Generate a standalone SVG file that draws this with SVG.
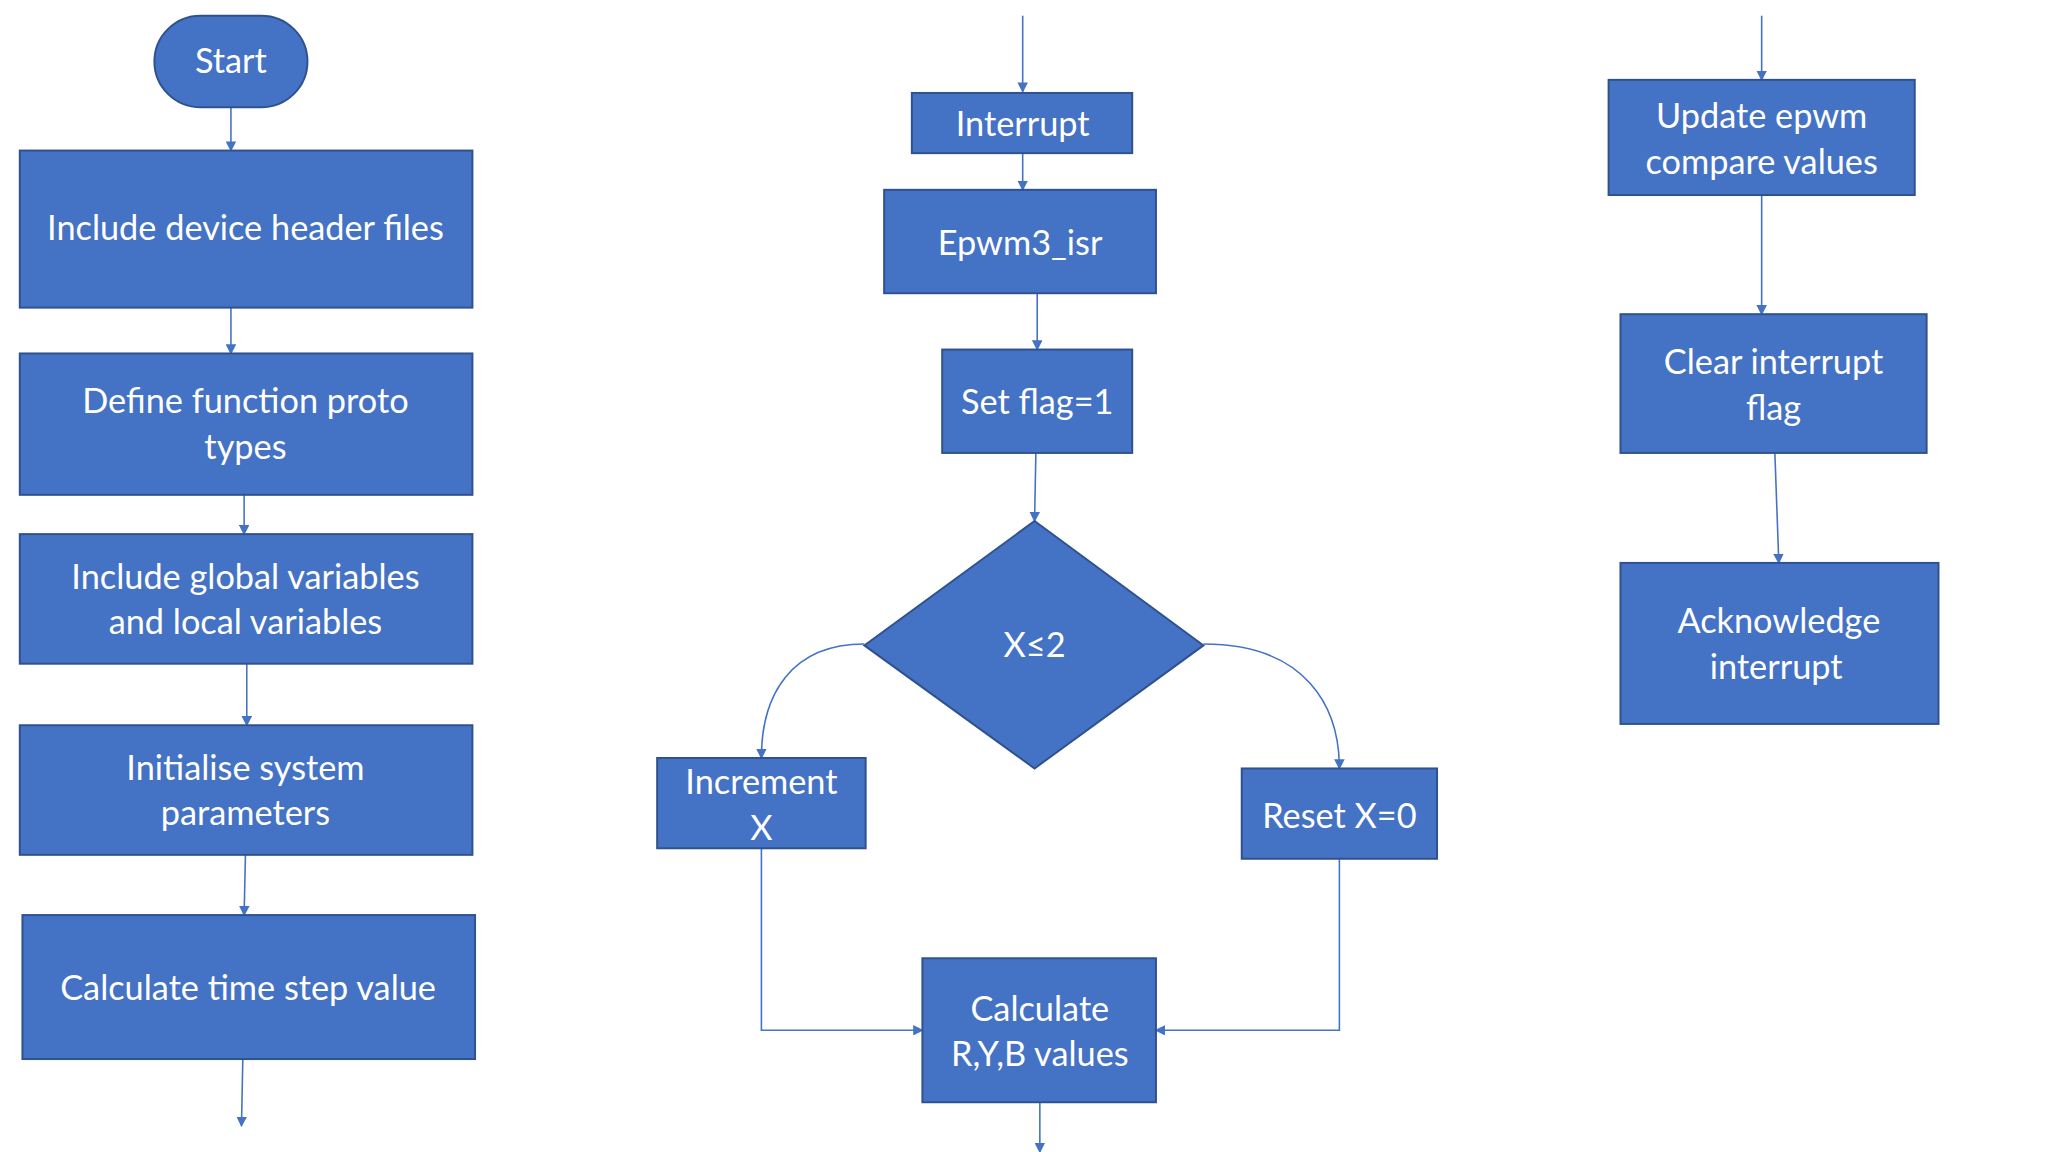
<svg xmlns="http://www.w3.org/2000/svg" width="2048" height="1152" viewBox="0 0 2048 1152">
<defs>
<marker id="ah" markerWidth="8" markerHeight="8" refX="7" refY="4" orient="auto" markerUnits="userSpaceOnUse"><path d="M0,0 L8,4 L0,8 z" fill="#4472C4"/></marker>
<style>
.n{fill:#4472C4;stroke:#2F528F;stroke-width:1.5}
.t{fill:#fff;font-family:Lato,"Open Sans",sans-serif;font-size:26px;text-anchor:middle;dominant-baseline:middle}
.c{fill:none;stroke:#4472C4;stroke-width:1.2;marker-end:url(#ah)}
.c2{fill:none;stroke:#4472C4;stroke-width:1.2}
</style>
</defs>
<rect width="2048" height="1152" fill="#fff"/>
<g transform="scale(1.3196 1.3091)">
<g id="connectors">
<path class="c" d="M175,82 V115"/>
<path class="c" d="M175,235 V270"/>
<path class="c" d="M185,378 V408"/>
<path class="c" d="M187,507 V554"/>
<path class="c" d="M186,653 L185,699"/>
<path class="c" d="M184,809 L183,860"/>
<path class="c" d="M775,12 V70"/>
<path class="c" d="M775,117 V145"/>
<path class="c" d="M786,224 V267"/>
<path class="c" d="M785,346 L784,398"/>
<path class="c" d="M655,492 C600,492 577,530 577,579"/>
<path class="c" d="M912,492 C990,492 1015,540 1015,587"/>
<path class="c" d="M577,648 V787 H699"/>
<path class="c" d="M1015,656 V787 H876"/>
<path class="c" d="M788,842 V880"/>
<path class="c" d="M1335,12 V61"/>
<path class="c" d="M1335,149 V240"/>
<path class="c" d="M1345,346 L1348,430"/>
</g>
<g id="start"><rect class="n" x="117" y="12" width="116" height="70" rx="35"/><text class="t" x="175" y="49">Start</text></g>
<g id="n1"><rect class="n" x="15" y="115" width="343" height="120"/><text class="t" x="186" y="177">Include device header files</text></g>
<g id="n2"><rect class="n" x="15" y="270" width="343" height="108"/><text class="t" x="186" y="309">Define function proto</text><text class="t" x="186" y="344">types</text></g>
<g id="n3"><rect class="n" x="15" y="408" width="343" height="99"/><text class="t" x="186" y="443">Include global variables</text><text class="t" x="186" y="478">and local variables</text></g>
<g id="n4"><rect class="n" x="15" y="554" width="343" height="99"/><text class="t" x="186" y="589">Initialise system</text><text class="t" x="186" y="624">parameters</text></g>
<g id="n5"><rect class="n" x="17" y="699" width="343" height="110"/><text class="t" x="188" y="757">Calculate time step value</text></g>
<g id="interrupt"><rect class="n" x="691" y="71" width="167" height="46"/><text class="t" x="775" y="97">Interrupt</text></g>
<g id="isr"><rect class="n" x="670" y="145" width="206" height="79"/><text class="t" x="773" y="188">Epwm3_isr</text></g>
<g id="setflag"><rect class="n" x="714" y="267" width="144" height="79"/><text class="t" x="786" y="310">Set flag=1</text></g>
<g id="decision"><polygon class="n" points="784,398 912,493 784,587 655,493"/><text class="t" x="784" y="495">X≤2</text></g>
<g id="inc"><rect class="n" x="498" y="579" width="158" height="69"/><text class="t" x="577" y="600">Increment</text><text class="t" x="577" y="635">X</text></g>
<g id="reset"><rect class="n" x="941" y="587" width="148" height="69"/><text class="t" x="1015" y="626">Reset X=0</text></g>
<g id="calc"><rect class="n" x="699" y="732" width="177" height="110"/><text class="t" x="788" y="773">Calculate</text><text class="t" x="788" y="808">R,Y,B values</text></g>
<g id="update"><rect class="n" x="1219" y="61" width="232" height="88"/><text class="t" x="1335" y="91">Update epwm</text><text class="t" x="1335" y="126">compare values</text></g>
<g id="clear"><rect class="n" x="1228" y="240" width="232" height="106"/><text class="t" x="1344" y="279">Clear interrupt</text><text class="t" x="1344" y="314">flag</text></g>
<g id="ack"><rect class="n" x="1228" y="430" width="241" height="123"/><text class="t" x="1348" y="477">Acknowledge</text><text class="t" x="1346" y="512">interrupt</text></g>
</g>
</svg>
